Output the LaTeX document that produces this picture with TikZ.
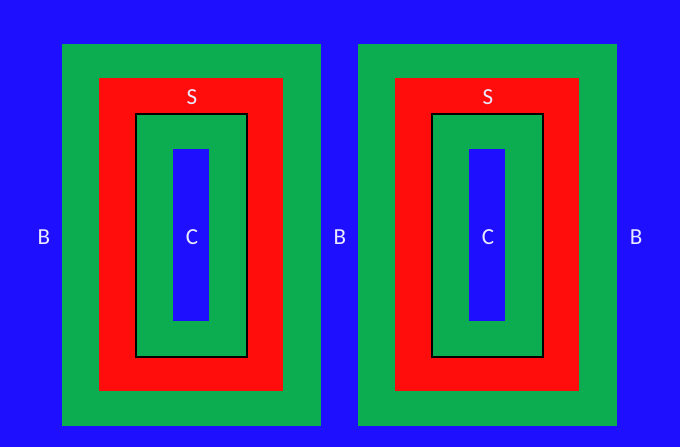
\documentclass[tikz,border=0pt]{standalone}
\usepackage{fontspec}
\setmainfont{Carlito}
\definecolor{bgblue}{RGB}{31,15,255}
\definecolor{ringgreen}{RGB}{11,173,80}
\definecolor{ringred}{RGB}{255,13,13}
\tikzset{
  lbl/.style={text=white!92!blue,font=\fontsize{23}{23}\selectfont,inner sep=0pt},
}
\begin{document}
\begin{tikzpicture}[x=1pt,y=-1pt]
% Background
\fill[bgblue] (0,0) rectangle (680,447);
\useasboundingbox (0,0) rectangle (680,447);
% Two blocks, the second shifted right
\foreach \dx/\n in {0/1,296/2} {
  \begin{scope}[xshift=\dx]
  \fill[ringgreen] (62,44) rectangle (321,426);
  \fill[ringred] (99,78) rectangle (283,391);
  \draw[line width=2pt,fill=ringgreen] (136,114) rectangle (247,357);
  \fill[bgblue] (173,149) rectangle (209,321);
  % Labels
  \node[lbl] (s\n) at (192,97) {S};
  \node[lbl] (c\n) at (192,237) {C};
  \end{scope}
}
% Outer labels
\node[lbl] (b1) at (44,237) {B};
\node[lbl] (b2) at (340,237) {B};
\node[lbl] (b3) at (636,237) {B};
\end{tikzpicture}
\end{document}
